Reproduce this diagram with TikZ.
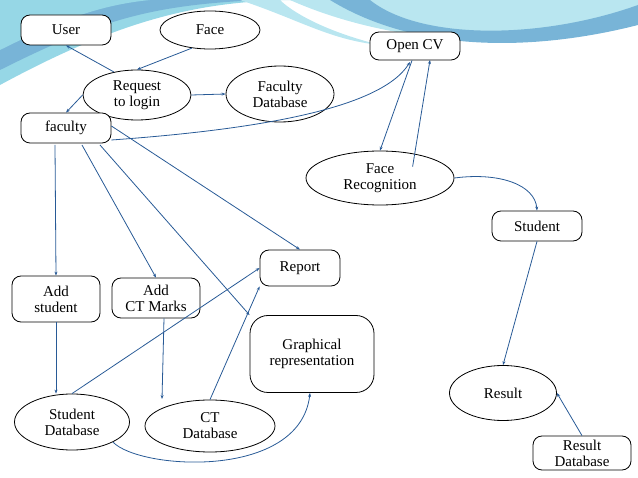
\documentclass[tikz,border=0pt]{standalone}
\usepackage{fontspec}
\setmainfont{Liberation Serif}
\usetikzlibrary{shapes.geometric,arrows.meta}
\definecolor{ln}{RGB}{40,90,150}
\definecolor{bgA}{RGB}{120,180,215}
\definecolor{bgB}{RGB}{150,215,230}
\definecolor{bgC}{RGB}{185,230,240}
\begin{document}
\begin{tikzpicture}[x=1pt,y=-1pt,
  rr/.style={draw,thick,fill=white,rounded corners=9pt,align=center,font=\fontsize{15}{16}\selectfont,inner sep=1pt},
  el/.style={draw,thick,fill=white,ellipse,align=center,font=\fontsize{15}{16}\selectfont,inner sep=0pt},
  ar/.style={ln,line width=0.8pt,-{Stealth[length=4pt,width=3pt]}}]
\useasboundingbox (0,0) rectangle (638,478);
% background swooshes
\fill[bgB] (0,85) .. controls (120,20) and (200,0) .. (300,0) -- (0,0) -- cycle;
\fill[bgA] (0,70) .. controls (100,20) and (150,5) .. (260,0) -- (0,0) -- cycle;
\fill[bgB] (0,50) .. controls (60,20) and (100,5) .. (150,0) -- (0,0) -- cycle;
\fill[bgC] (290,0) .. controls (380,40) and (520,60) .. (638,10) -- (638,0) -- cycle;
\fill[bgA] (330,0) .. controls (420,55) and (540,50) .. (638,25) -- (638,5) .. controls (540,40) and (420,40) .. (370,0) -- cycle;
\fill[bgC] (240,0) .. controls (300,20) and (330,40) .. (380,45) .. controls (320,30) and (290,10) .. (280,0) -- cycle;
% nodes
\node[rr,minimum width=90,minimum height=30] (user) at (66,30) {User};
\node[el,minimum width=100,minimum height=38] (face) at (210,30) {Face};
\node[rr,minimum width=90,minimum height=28] (cv) at (415,46) {Open CV};
\node[el,minimum width=108,minimum height=50] (req) at (137,95) {Request\\to login};
\node[el,minimum width=108,minimum height=56] (fdb) at (280,94) {Faculty\\Database};
\node[rr,minimum width=90,minimum height=30] (fac) at (66,128) {faculty};
\node[el,minimum width=148,minimum height=54] (fr) at (380,178) {Face\\Recognition};
\node[rr,minimum width=90,minimum height=30] (stu) at (537,226) {Student};
\node[rr,minimum width=80,minimum height=36] (rep) at (300,268) {Report};
\node[rr,minimum width=88,minimum height=46] (ads) at (56,299) {Add\\student};
\node[rr,minimum width=88,minimum height=40] (adc) at (156,298) {Add\\CT Marks};
\node[rr,rounded corners=18pt,minimum width=124,minimum height=77] (gr) at (312,354) {Graphical\\representation};
\node[el,minimum width=107,minimum height=55] (res) at (503,393) {Result};
\node[el,minimum width=115,minimum height=56] (sdb) at (72,422) {Student\\Database};
\node[el,minimum width=130,minimum height=52] (ctdb) at (210,426) {CT\\Database};
\node[rr,minimum width=98,minimum height=34] (rdb) at (582,453) {Result\\Database};
% edges
\draw[ar] (req.135) -- (user.south);
\draw[ar] (face.225) -- (req.north);
\draw[ar] (req.east) -- (fdb.west);
\draw[ar] (req.west) -- (fac.north);
\draw[ar] (fac.east) ++(0,12) .. controls (250,130) and (380,110) .. (410,62);
\draw[ar] (cv.south) ++(-3,0) -- (fr.north);
\draw[ar] (fr.north east) ++(-20,8) -- (430,60);
\draw[ar] (fr.east) .. controls (500,172) and (535,185) .. (stu.north);
\draw[ar] (stu.south) -- (res.north);
\draw[ar] (rdb.north) -- (res.east);
\draw[ar] (55,145) -- (ads.north);
\draw[ar] (82,145) -- (adc.north);
\draw[ar] (100,145) -- (gr.north west);
\draw[ar] (fac.east) ++(0,-2) -- (rep.north);
\draw[ar] (ads.south) -- (ads.south |- sdb.north);
\draw[ar] (adc.south) ++(8,0) -- (162,399);
\draw[ar] (sdb.north) -- (rep.west);
\draw[ar] (ctdb.north) -- (rep.south west);
\draw[ar] (sdb.south east) .. controls (140,470) and (300,480) .. (310,393);
\end{tikzpicture}
\end{document}
